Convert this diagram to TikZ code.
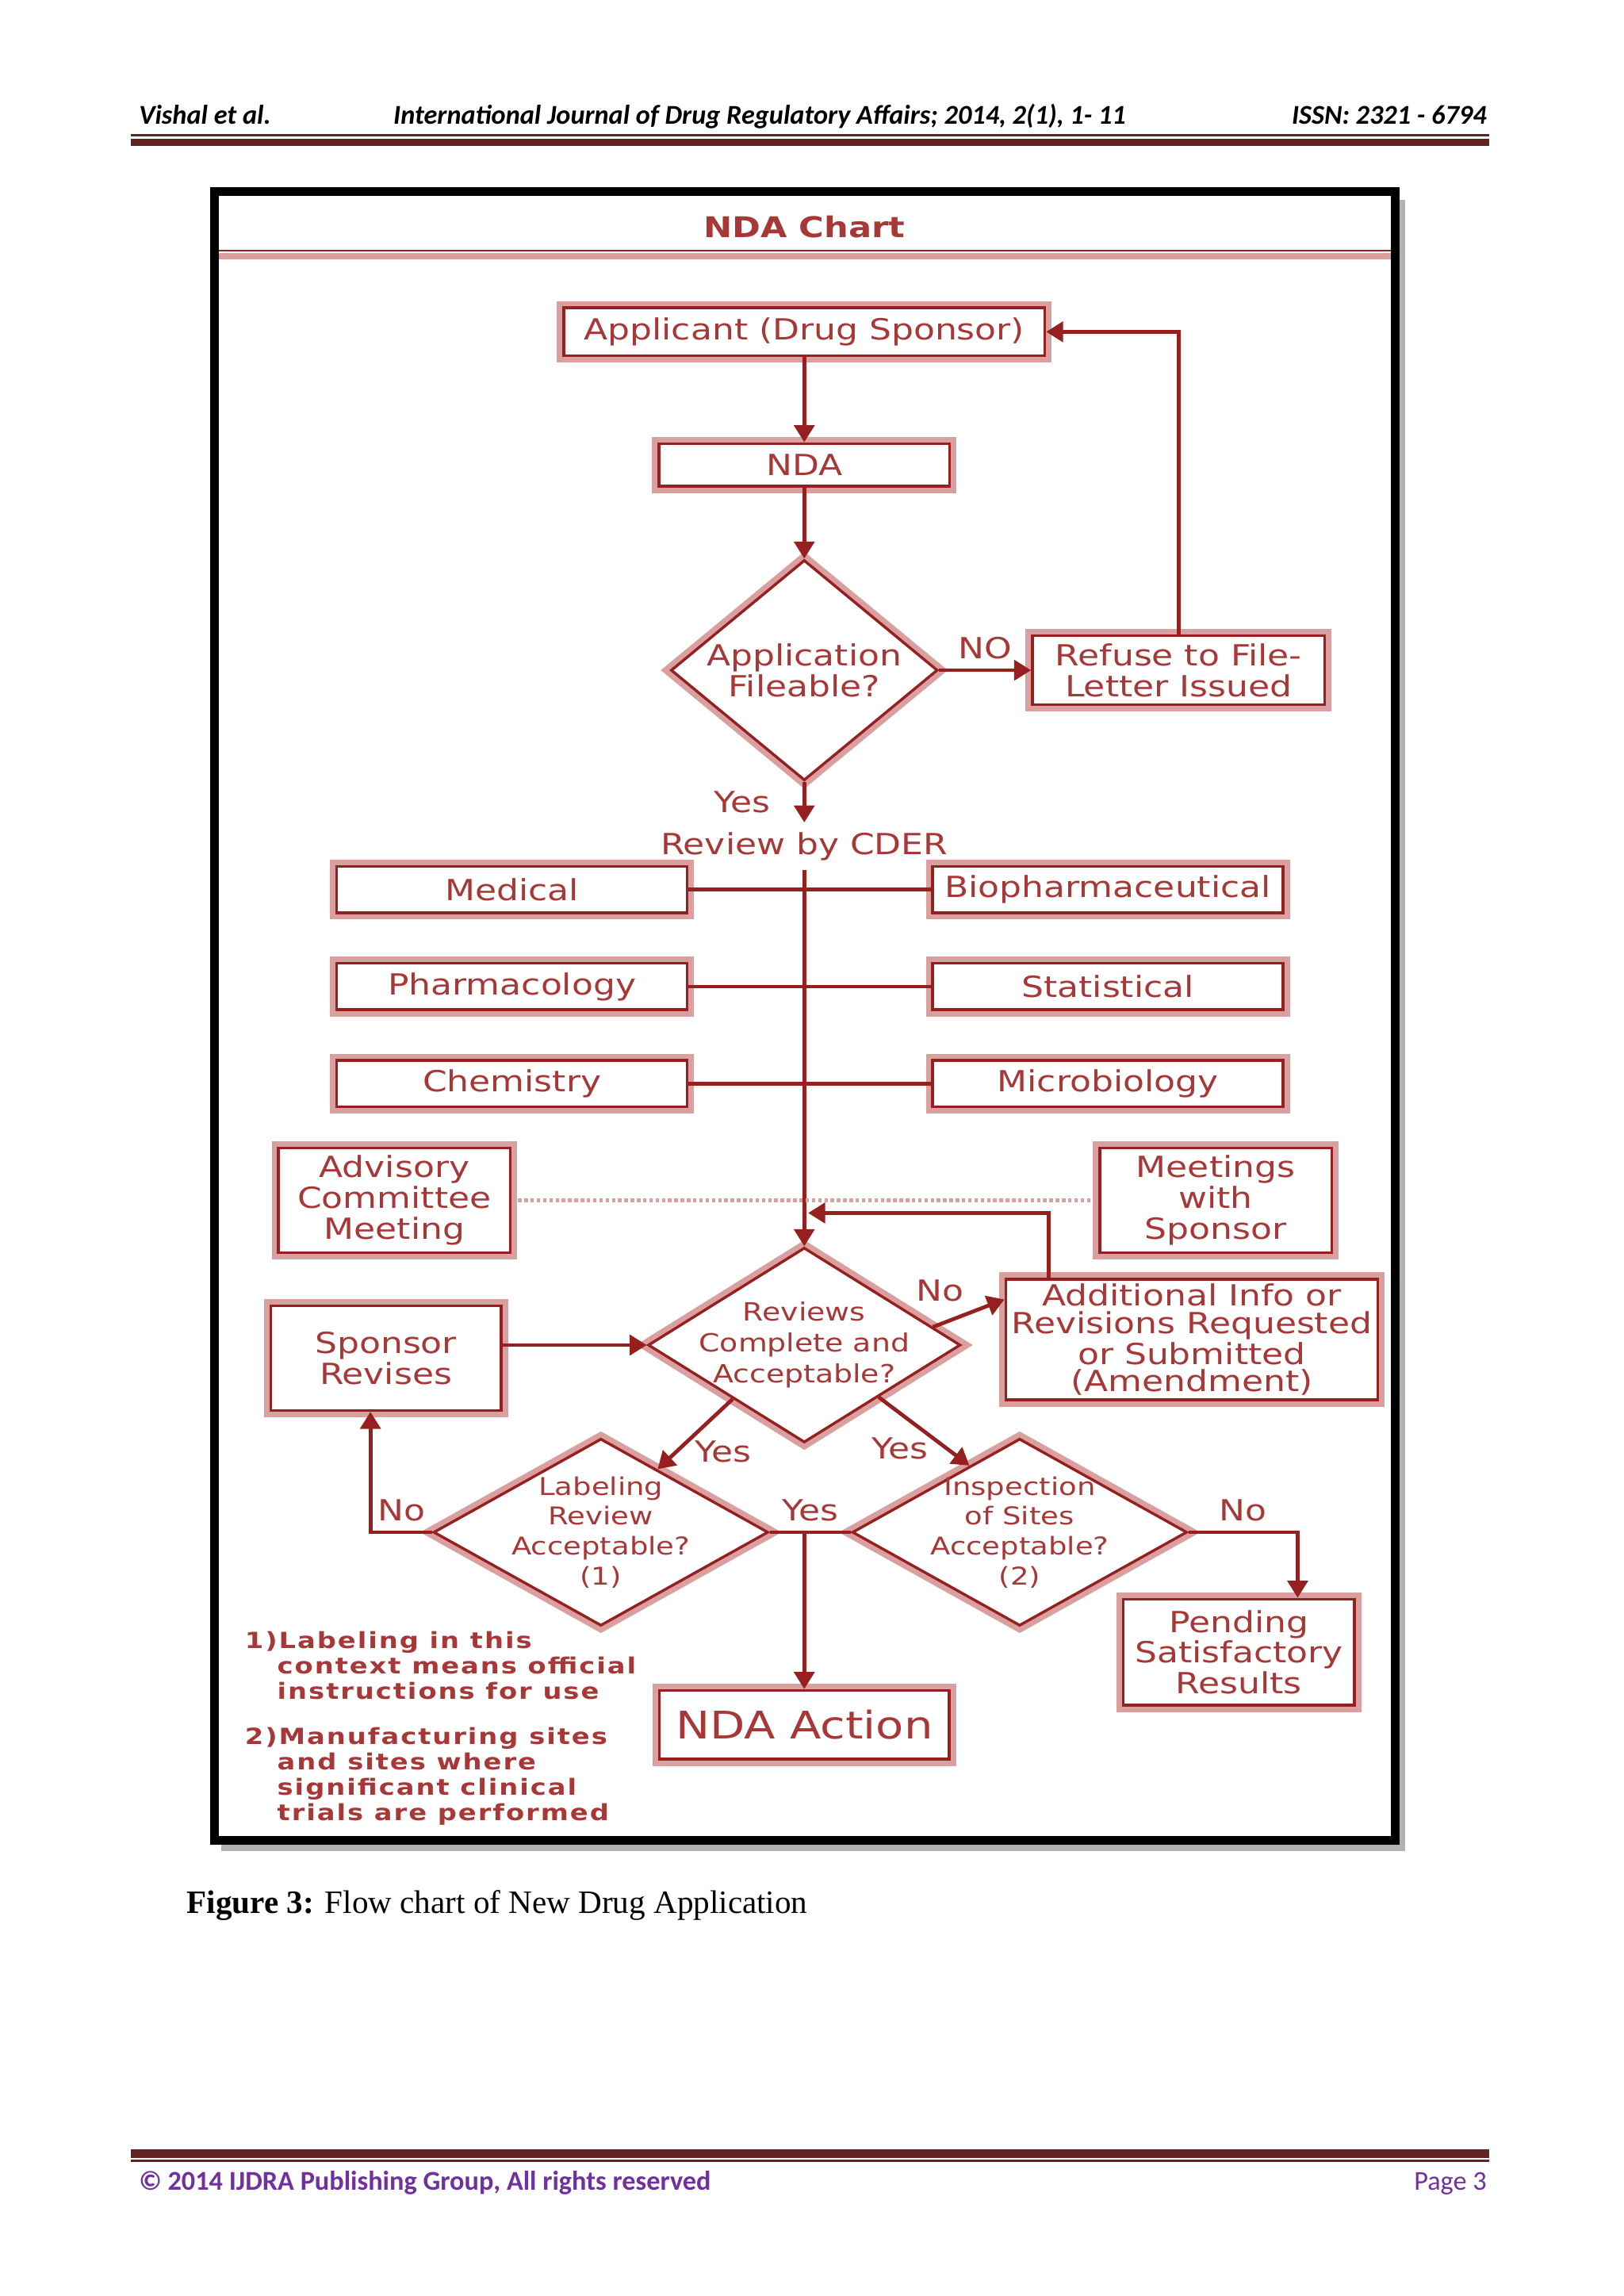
\documentclass[tikz,border=0pt]{standalone}
\usepackage{fontspec}
\usetikzlibrary{positioning,shapes.geometric,arrows.meta}

\newfontfamily\chartfont[FakeStretch=1.2]{DejaVu Sans}
\newfontfamily\notefont[FakeStretch=1.2,LetterSpace=7]{DejaVu Sans}
\newfontfamily\hdrfont{Carlito}
\newfontfamily\capfont{Liberation Serif}

\definecolor{ndared}{RGB}{150,32,32}
\definecolor{ndatext}{RGB}{168,56,56}
\definecolor{ndapink}{RGB}{218,160,160}
\definecolor{rulered}{RGB}{96,36,36}
\definecolor{footpurple}{RGB}{112,48,160}

\tikzset{
  box/.style={rectangle, draw=ndared, line width=1pt, fill=white,
    preaction={draw=ndapink, line width=5pt},
    text=ndatext, align=center, inner sep=1pt,
    font=\chartfont\fontsize{10.7}{11.3}\selectfont},
  decision/.style={box, diamond},
  review/.style={box, minimum width=45.3mm, minimum height=6mm},
  lbl/.style={text=ndatext, font=\chartfont\fontsize{10.7}{11.3}\selectfont},
  note/.style={align=left, inner sep=0pt, text=ndatext,
    font=\notefont\bfseries\fontsize{8.2}{9.3}\selectfont},
  hdr/.style={inner sep=0pt, font=\hdrfont\bfseries\itshape\fontsize{10}{12}\selectfont},
  line/.style={draw=ndared, line width=1.4pt},
  arr/.style={line, -{Triangle[length=2.2mm,width=2.6mm]}},
}

\begin{document}
\begin{tikzpicture}[x=1mm, y=1mm]
\useasboundingbox (0,0) rectangle (210,-296.85);

% Page header and footer

\node[hdr, anchor=base west] (author) at (17.9,-16.0) {Vishal et al.};
\node[hdr, anchor=base west] (journal) at (50.8,-16.0) {International Journal of Drug Regulatory Affairs; 2014, 2(1), 1- 11};
\node[hdr, anchor=base east] (issn) at (192.3,-16.0) {ISSN: 2321 - 6794};
\draw[rulered, line width=0.9pt] (16.9,-17.5) -- (192.6,-17.5);
\draw[rulered, line width=2.6pt] (16.9,-18.4) -- (192.6,-18.4);

\draw[rulered, line width=3.2pt] (16.9,-278.45) -- (192.6,-278.45);
\draw[rulered, line width=0.9pt] (16.9,-279.4) -- (192.6,-279.4);
\node[inner sep=0pt, anchor=base west, text=footpurple, font=\hdrfont\bfseries\fontsize{10}{12}\selectfont] (copyright) at (17.9,-283.2) {© 2014 IJDRA Publishing Group, All rights reserved};
\node[inner sep=0pt, anchor=base east, text=footpurple, font=\hdrfont\fontsize{10}{12}\selectfont] (page) at (192.3,-283.2) {Page 3};

\node[inner sep=0pt, anchor=base west, font=\capfont\fontsize{12}{14}\selectfont] (caption) at (24.1,-247.4) {\textbf{Figure 3:} Flow chart of New Drug Application};

% Frame

\draw[black!30, line width=2.5pt] (181.3,-25.8) |- (28.6,-238.9);
\draw[line width=3.2pt] (27.7,-24.8) rectangle (180.4,-237.9);
\node[text=ndatext, font=\chartfont\bfseries\fontsize{10.5}{12}\selectfont] (title) at (104.0,-29.3) {NDA Chart};
\draw[ndapink, line width=2.5pt] (28.3,-33.1) -- (179.8,-33.1);
\draw[ndared, line width=0.8pt] (28.3,-32.4) -- (179.8,-32.4);

% Nodes

\node[box, minimum width=62.2mm, minimum height=6.2mm] (app) at (104.0,-42.9) {Applicant (Drug Sponsor)};
\node[box, below=11.0mm of app, minimum width=37.6mm, minimum height=5.5mm] (nda) {NDA};
\node[decision, below=9.2mm of nda, aspect=1.21, inner sep=0pt, minimum width=34.5mm, minimum height=28.5mm] (fileable) {Application\\Fileable?};
\node[box, right=11.9mm of fileable, minimum width=37.8mm, minimum height=8.9mm] (refuse) {Refuse to File-\\Letter Issued};
\node[lbl] (cder) at (104.0,-109.4) {Review by CDER};

\node[review] (medical) at (66.2,-115.0) {Medical};
\node[review, right=31.4mm of medical] (biopharm) {Biopharmaceutical};
\node[review, below=6.2mm of medical] (pharmacology) {Pharmacology};
\node[review, right=31.4mm of pharmacology] (statistical) {Statistical};
\node[review, below=6.2mm of pharmacology] (chemistry) {Chemistry};
\node[review, right=31.4mm of chemistry] (microbiology) {Microbiology};

\node[box, minimum width=30.0mm, minimum height=13.5mm] (advisory) at (51.0,-155.2) {Advisory\\Committee\\Meeting};
\node[box, minimum width=30.0mm, minimum height=13.5mm] (meetings) at (157.2,-155.2) {Meetings\\with\\Sponsor};
\node[decision, aspect=1.6, inner sep=-2.7pt, minimum width=40.4mm, minimum height=25.2mm, font=\chartfont\fontsize{9.2}{11.3}\selectfont] (reviews) at (104.0,-173.9) {Reviews\\Complete and\\Acceptable?};
\node[box, minimum width=29.8mm, minimum height=13.5mm] (sponsor) at (49.9,-175.6) {Sponsor\\Revises};
\node[box, minimum width=48.1mm, minimum height=15.6mm, font=\chartfont\fontsize{10.7}{10}\selectfont] (addl) at (154.1,-173.2) {Additional Info or\\Revisions Requested\\or Submitted\\(Amendment)};

\node[decision, aspect=1.8, inner sep=-3.3pt, minimum width=43.3mm, minimum height=24.2mm, font=\chartfont\fontsize{9}{11}\selectfont] (labeling) at (77.7,-198.1) {Labeling\\Review\\Acceptable?\\(1)};
\node[decision, right=10.5mm of labeling, aspect=1.8, inner sep=-3.3pt, minimum width=43.3mm, minimum height=24.2mm, font=\chartfont\fontsize{9}{11}\selectfont] (inspection) {Inspection\\of Sites\\Acceptable?\\(2)};
\node[box, minimum width=37.5mm, minimum height=8.9mm, font=\chartfont\fontsize{14}{16}\selectfont] (action) at (104.0,-223.0) {NDA Action};
\node[box, minimum width=29.9mm, minimum height=13.7mm] (pending) at (160.2,-213.6) {Pending\\Satisfactory\\Results};

\node[note, anchor=north west] (note1) at (31.6,-210.9) {1)Labeling in this\\\phantom{1)}context means official\\\phantom{1)}instructions for use};
\node[note, anchor=north west] (note2) at (31.6,-223.3) {2)Manufacturing sites\\\phantom{2)}and sites where\\\phantom{2)}significant clinical\\\phantom{2)}trials are performed};

% Edges

\draw[arr] (app) -- (nda);
\draw[arr] (nda) -- (fileable);
\draw[arr] (fileable) -- node[lbl, above] {NO} (refuse);
\draw[arr] (refuse) |- (app);
\draw[arr] (fileable) -- node[lbl, left=3mm] {Yes} (cder);
\draw[arr] (cder) -- (reviews);

\draw[line] (medical) -- (biopharm);
\draw[line] (pharmacology) -- (statistical);
\draw[line] (chemistry) -- (microbiology);
\draw[ndapink, line width=1.3pt, densely dotted] (advisory) -- (meetings);

\draw[arr] ([xshift=5.7mm]addl.north west) |- ([xshift=0.5mm,yshift=4.3mm]reviews.north);
\draw[arr] (sponsor.east |- reviews.west) -- (reviews.west);
\draw[arr] (reviews.8) -- node[lbl, above=1.5mm, pos=0.1] {No} ([yshift=5.2mm]addl.west);
\draw[arr] (reviews.217) -- node[lbl, right=1mm, pos=0.75] {Yes} (labeling.48);
\draw[arr] (reviews.-35) -- node[lbl, left=1mm, pos=0.75] {Yes} (inspection.127);

\draw[line] (labeling) -- node[lbl, above] {Yes} (inspection);
\draw[arr] (labeling.east -| action.north) -- (action);
\draw[arr] (labeling) -| node[lbl, pos=0.25, above] {No} ([xshift=-2mm]sponsor.south);
\draw[arr] (inspection) -| node[lbl, pos=0.25, above] {No} ([xshift=7.6mm]pending.north);

\end{tikzpicture}
\end{document}
